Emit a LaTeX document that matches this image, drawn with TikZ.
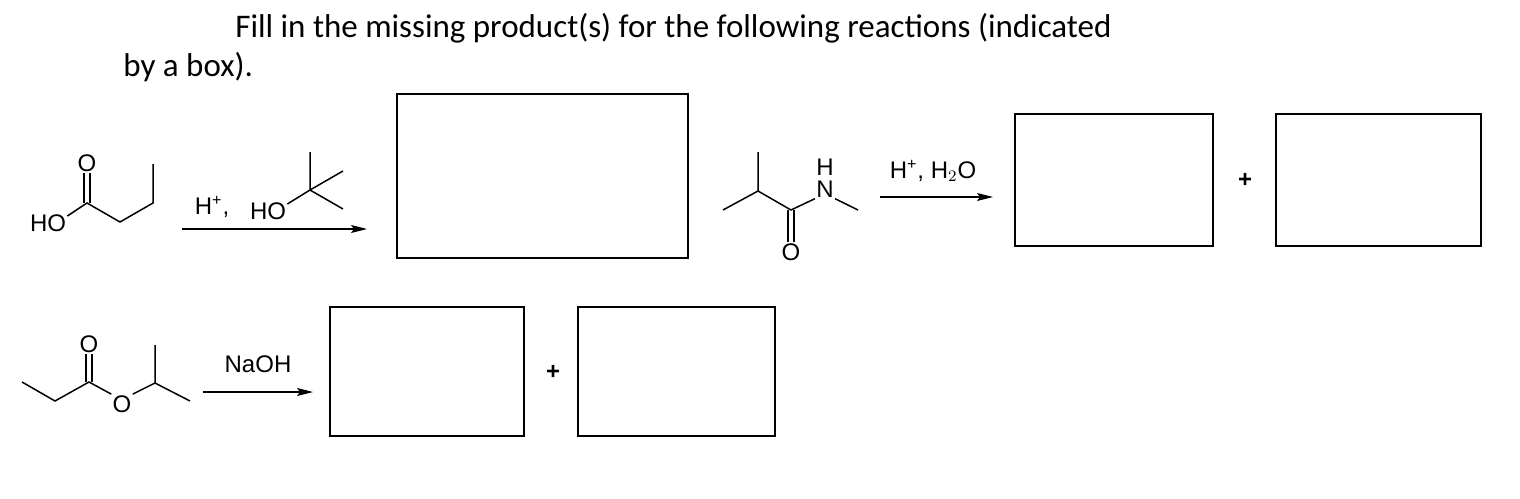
\documentclass[tikz,border=0pt]{standalone}
\usepackage{fontspec}
\usetikzlibrary{arrows.meta}
\setmainfont{Liberation Sans}
\newfontfamily\titlefont{Carlito}
\begin{document}
\begin{tikzpicture}[x=0.5pt,y=-0.5pt,
  bond/.style={line width=0.75pt},
  atom/.style={inner sep=0.5pt,font=\fontsize{12}{14}\selectfont},
  prodbox/.style={draw,line width=0.6pt},
  rxn/.style={line width=0.6pt,-{Stealth[length=8pt,width=4pt,inset=1.5pt]}},
  lbl/.style={font=\fontsize{12}{14}\selectfont,inner sep=0pt},
  ttl/.style={font=\titlefont\fontsize{16.5}{19}\selectfont,anchor=west,inner sep=0pt}]
\useasboundingbox (0,0) rectangle (1520,498);
\node[ttl] (t1) at (235,28) {Fill in the missing product(s) for the following reactions (indicated};
\node[ttl] (t2) at (123,67) {by a box).};
% butanoic acid
\node[atom] (ho1) at (48,223) {HO};
\node[atom] (o1) at (87,163) {O};
\coordinate (c1) at (87,203);
\coordinate (c2) at (120,222);
\coordinate (c3) at (153,203);
\coordinate (c4) at (153,164);
\draw[bond] (ho1.east) ++(0,-7) -- (c1) -- (c2) -- (c3) -- (c4);
\draw[bond] ([xshift=-1.5pt]c1) -- ([xshift=-1.5pt]o1.south);
\draw[bond] ([xshift=1.5pt]c1) -- ([xshift=1.5pt]o1.south);
% reagent
\node[lbl] (hp1) at (212,207) {H\textsuperscript{+},};
\node[atom] (ho2) at (268,211) {HO};
\coordinate (t0) at (310,190);
\draw[bond] (ho2.east) ++(0,-7) -- (t0) -- (310,152);
\draw[bond] (t0) -- (343,171);
\draw[bond] (t0) -- (343,209);
\coordinate (a1s) at (182,229); \coordinate (a1e) at (367,229);
\draw[rxn] (a1s) -- (a1e);
\node[prodbox,minimum width=145.5pt,minimum height=82pt] (b1) at (542.5,176) {};
% amide
\coordinate (m1) at (723,210);
\coordinate (m2) at (758,191);
\coordinate (m3) at (791,210);
\node[atom] (n1) at (825,189) {N};
\node[atom] (h1) at (825,167) {H};
\node[atom] (o2) at (791,252) {O};
\draw[bond] (m1) -- (m2) -- (758,152);
\draw[bond] (m2) -- (m3) -- (n1.south west);
\draw[bond] (n1.south east) -- (858,210);
\draw[bond] ([xshift=-1.5pt]m3) -- ([xshift=-1.5pt]o2.north);
\draw[bond] ([xshift=1.5pt]m3) -- ([xshift=1.5pt]o2.north);
\node[lbl] (r2) at (933,171) {H\textsuperscript{+}, H$_2$O};
\coordinate (a2s) at (880,197); \coordinate (a2e) at (993,197);
\draw[rxn] (a2s) -- (a2e);
\node[prodbox,minimum width=99pt,minimum height=66pt] (b2) at (1114,180) {};
\node[lbl,font=\bfseries\fontsize{12}{14}\selectfont] (p1) at (1245,180) {+};
\node[prodbox,minimum width=102.5pt,minimum height=66pt] (b3) at (1378.5,180) {};
% ester
\coordinate (e1) at (22,382);
\coordinate (e2) at (55,401);
\coordinate (e3) at (89,382);
\node[atom] (o3) at (89,344) {O};
\node[atom] (o4) at (122,404) {O};
\coordinate (e5) at (155,383);
\draw[bond] (e1) -- (e2) -- (e3) -- (o4.north west);
\draw[bond] (o4.north east) -- (e5) -- (155,345);
\draw[bond] (e5) -- (190,401);
\draw[bond] ([xshift=-1.5pt]e3) -- ([xshift=-1.5pt]o3.south);
\draw[bond] ([xshift=1.5pt]e3) -- ([xshift=1.5pt]o3.south);
\node[lbl] (naoh) at (258,364) {NaOH};
\coordinate (a3s) at (203,392); \coordinate (a3e) at (313,392);
\draw[rxn] (a3s) -- (a3e);
\node[prodbox,minimum width=97pt,minimum height=64.5pt] (b4) at (427,371.5) {};
\node[lbl,font=\bfseries\fontsize{12}{14}\selectfont] (p2) at (553,372) {+};
\node[prodbox,minimum width=98.5pt,minimum height=64.5pt] (b5) at (676.5,371.5) {};
\end{tikzpicture}
\end{document}
